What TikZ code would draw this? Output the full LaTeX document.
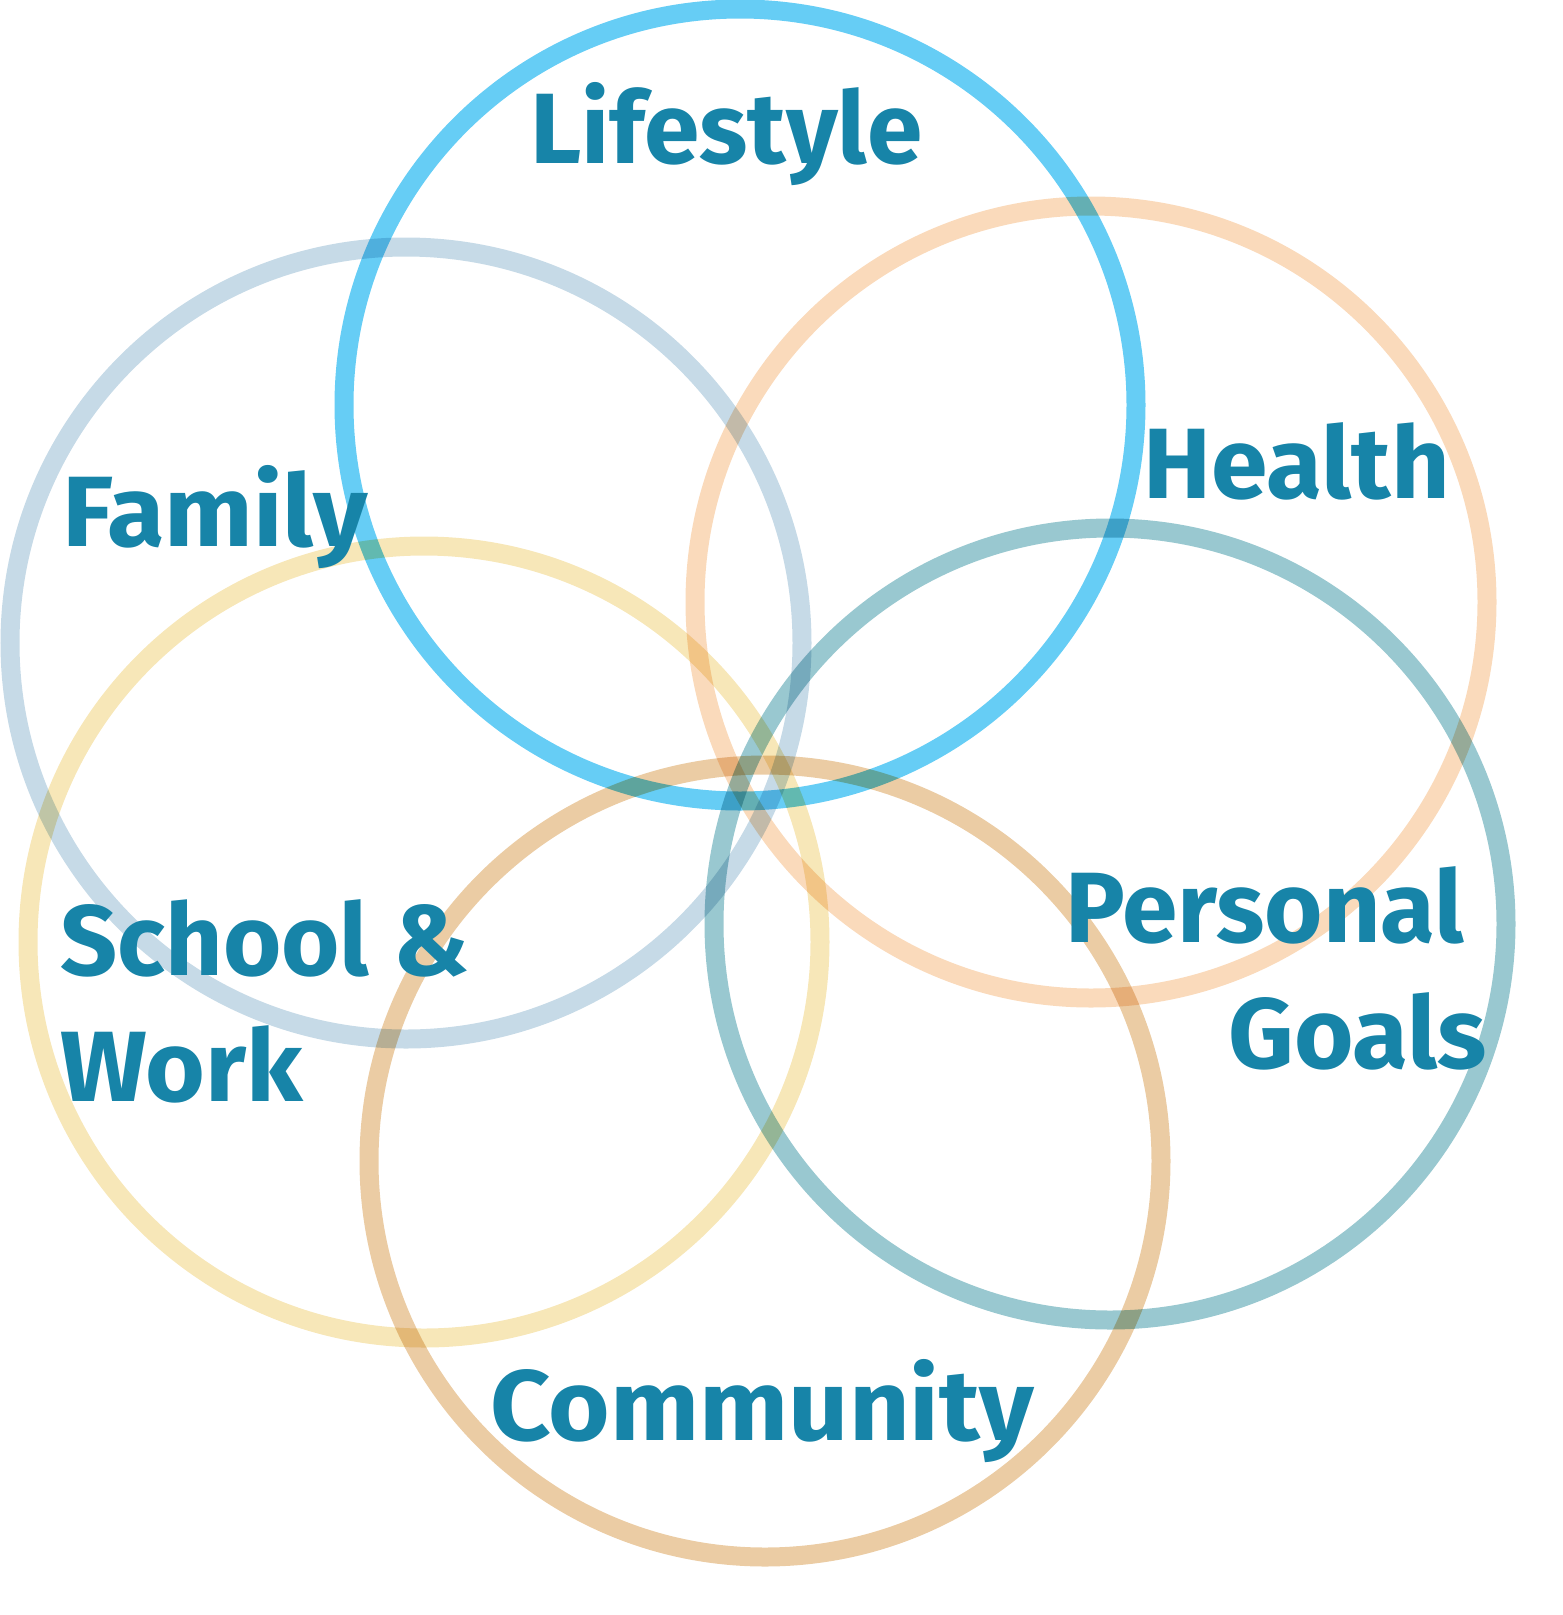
\documentclass[tikz,border=0pt]{standalone}
\usepackage{fontspec}
\setmainfont{Fira Sans}
\definecolor{txt}{HTML}{1784A8}
\definecolor{cLife}{HTML}{66CDF5}
\definecolor{cHealth}{HTML}{FADABB}
\definecolor{cFamily}{HTML}{C6DAE7}
\definecolor{cSchool}{HTML}{F7E7B8}
\definecolor{cGoals}{HTML}{99C8D0}
\definecolor{cComm}{HTML}{EBCCA4}
\tikzset{
  ring/.style={line width=19pt, blend mode=multiply},
  lbl/.style={text=txt, font=\fontsize{100}{100}\selectfont\bfseries, inner sep=0pt, anchor=base west}
}
\begin{document}
\begin{tikzpicture}[x=1pt,y=-1pt]
\useasboundingbox (0,0) rectangle (1563,1615);
\draw[ring, cFamily] (406,643) circle[radius=396];
\draw[ring, cSchool] (424,942) circle[radius=396];
\draw[ring, cHealth] (1091,602) circle[radius=396];
\draw[ring, cGoals] (1110,924) circle[radius=396];
\draw[ring, cComm] (765,1161) circle[radius=396];
\draw[ring, cLife] (740,405) circle[radius=396];
\node[lbl] (life) at (530,163) {Lifestyle};
\node[lbl] (health) at (1143,498) {\scalebox{1.02}[1]{Health}};
\node[lbl] (family) at (62,546) {\scalebox{1.05}[1]{Family}};
\node[lbl] (school) at (60,975) {School \&};
\node[lbl] (work) at (60,1101) {\scalebox{1.025}[1]{Work}};
\node[lbl] (pers) at (1065,942) {Personal};
\node[lbl] (goals) at (1228,1068) {\scalebox{1.02}[1]{Goals}};
\node[lbl] (comm) at (490,1440) {\scalebox{1.055}[1]{Community}};
\end{tikzpicture}
\end{document}
